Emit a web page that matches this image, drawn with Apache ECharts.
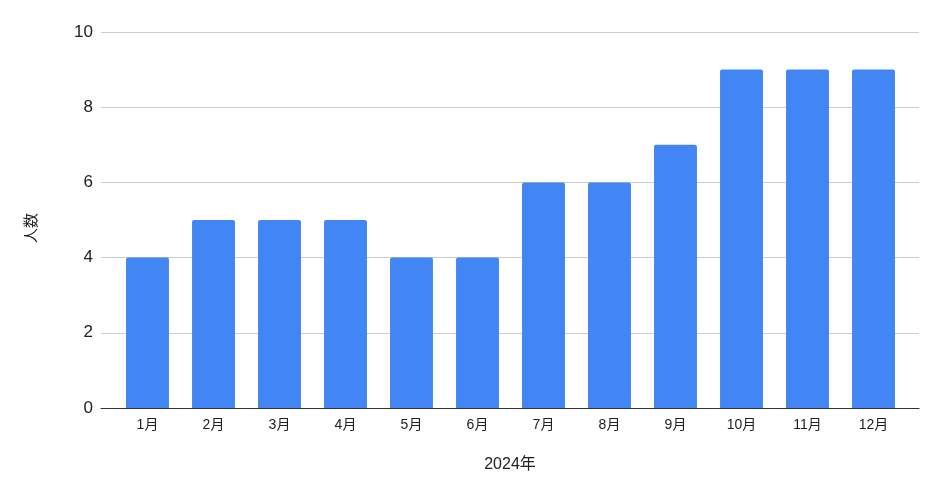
<!DOCTYPE html>
<html>
<head>
<meta charset="utf-8">
<script src="https://cdn.jsdelivr.net/npm/echarts@6/dist/echarts.min.js"></script>
<style>html,body{margin:0;padding:0;background:#fff;}#c{width:944px;height:496px;}</style>
</head>
<body>
<div id="c"></div>
<script>
var categories = ['1月','2月','3月','4月','5月','6月','7月','8月','9月','10月','11月','12月'];
var values = [4,5,5,5,4,4,6,6,7,9,9,9];
var xTitle = '2024年';
var yTitle = '人数';
var FONT = '"Liberation Sans", Arial, "Noto Sans CJK JP", sans-serif';
var chart = echarts.init(document.getElementById('c'));
chart.setOption({
  animation: false,
  textStyle: { fontFamily: FONT },
  grid: [
    { left: 114.5, right: 37.5, top: 32, bottom: 88 },
    { left: 101, right: 25, top: 32, bottom: 88 }
  ],
  xAxis: [
    {
      type: 'category', gridIndex: 0, data: categories,
      axisLine: { show: false }, axisTick: { show: false },
      axisLabel: { fontSize: 14, color: '#222', margin: 10, fontFamily: FONT }
    },
    {
      type: 'value', gridIndex: 1, min: 0, max: 1,
      axisLine: { show: true, onZero: false, lineStyle: { color: '#333', width: 1 } },
      axisTick: { show: false }, axisLabel: { show: false }, splitLine: { show: false },
      name: xTitle, nameLocation: 'middle', nameGap: 49,
      nameTextStyle: { fontSize: 16, color: '#222', fontFamily: FONT }
    }
  ],
  yAxis: [
    { type: 'value', gridIndex: 0, min: 0, max: 10, interval: 2, show: false },
    {
      type: 'value', gridIndex: 1, min: 0, max: 10, interval: 2,
      axisLine: { show: false }, axisTick: { show: false },
      axisLabel: { fontSize: 17, color: '#222', margin: 8, fontFamily: FONT },
      splitLine: { lineStyle: { color: '#cccccc', width: 1 } },
      name: yTitle, nameLocation: 'middle', nameGap: 62,
      nameTextStyle: { fontSize: 15, color: '#222', fontFamily: FONT, padding: [0, 16, 0, 0] }
    }
  ],
  series: [{
    type: 'bar', xAxisIndex: 0, yAxisIndex: 0, data: values,
    barCategoryGap: '35%',
    itemStyle: { color: '#4285F4', borderRadius: [2,2,0,0] },
    z: 3
  }]
});
</script>
</body>
</html>
